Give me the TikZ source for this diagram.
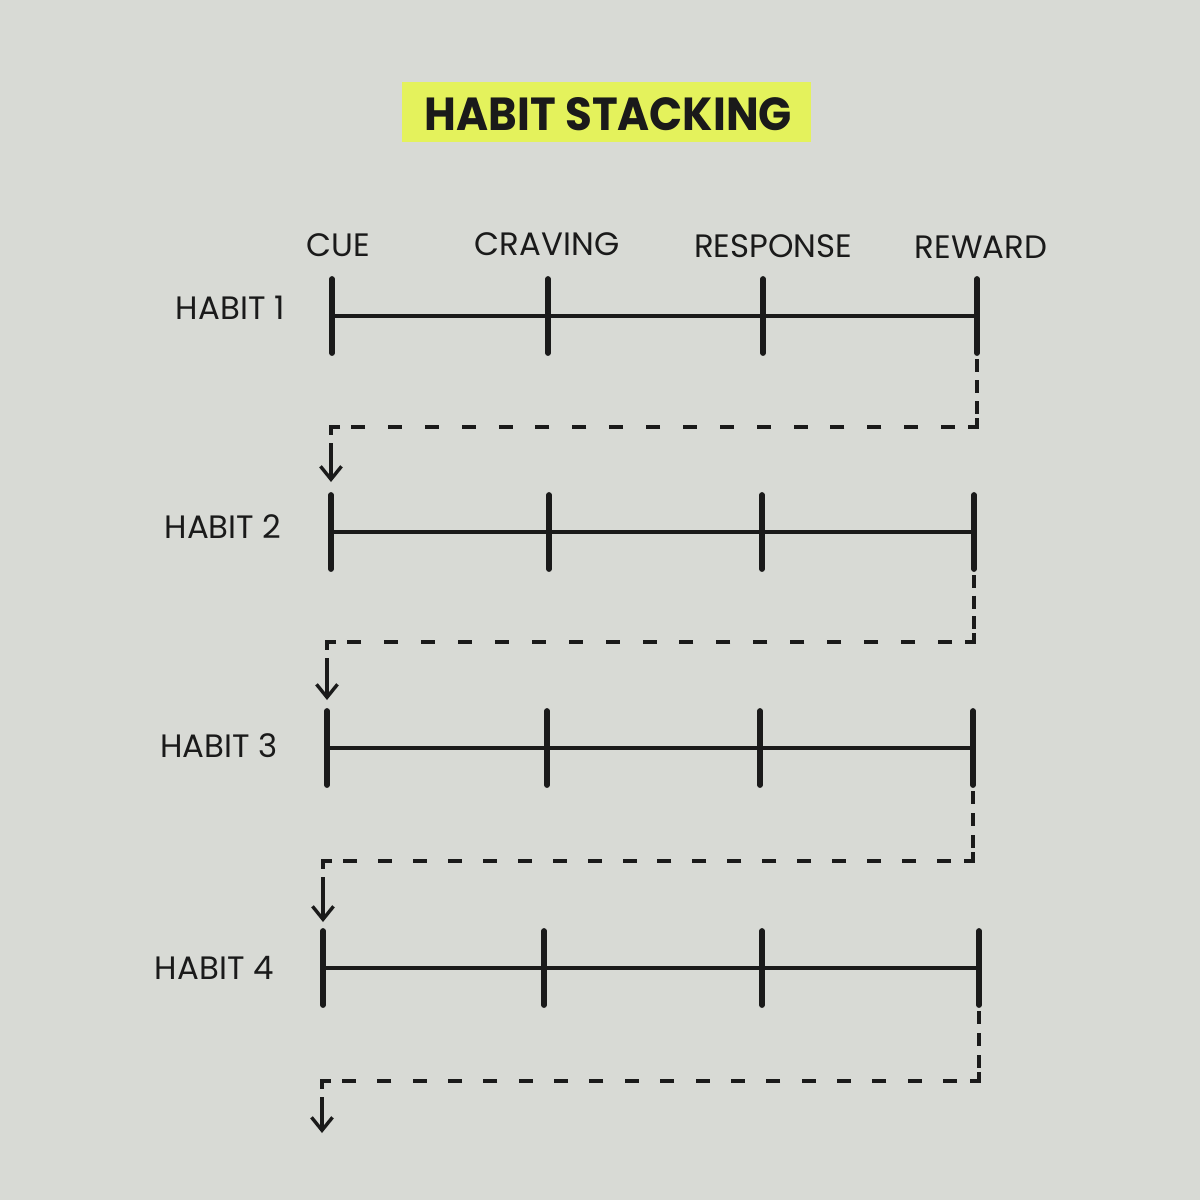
\documentclass[tikz,border=0pt]{standalone}
\usepackage{fontspec}
\setmainfont{Poppins}
\usetikzlibrary{arrows.meta,calc}
\definecolor{paper}{RGB}{216,218,213}
\definecolor{hilite}{RGB}{228,242,92}
\definecolor{ink}{RGB}{26,26,26}
\begin{document}
\begin{tikzpicture}[x=0.5pt,y=-0.5pt,
  axis/.style={line width=2.4pt, draw=ink},
  tickmark/.style={line width=2.9pt, draw=ink, line cap=round},
  dashline/.style={line width=2.1pt, draw=ink},
  cornermark/.style={line width=2.1pt, draw=ink},
  downarrow/.style={line width=1.7pt, draw=ink, -{Straight Barb[length=6.5pt,width=10.5pt]}},
  habitlabel/.style={font=\fontsize{16.2}{16.2}\selectfont, text=ink, inner sep=0pt, anchor=east},
  stagelabel/.style={font=\fontsize{16.2}{16.2}\selectfont, text=ink, inner sep=0pt, anchor=center},
  titlebox/.style={fill=hilite, inner sep=0pt, minimum width=204.5pt, minimum height=30pt}
]
\fill[paper] (0,0) rectangle (1200,1200);
\useasboundingbox (0,0) rectangle (1200,1200);

% title
\node[titlebox] (titlebg) at (606.5,112) {};
\node[inner sep=0pt, text=ink] (title) at (608.5,114.5)
  {\resizebox{183.5pt}{16.5pt}{\fontsize{24}{24}\selectfont\bfseries HABIT STACKING}};

% stage labels
\node[stagelabel] (cue) at (338,245) {CUE};
\node[stagelabel] (craving) at (547,244) {CRAVING};
\node[stagelabel] (response) at (773,246) {RESPONSE};
\node[stagelabel] (reward) at (981,247) {REWARD};

% habit rows
\foreach \n/\y/\a/\b/\c/\d/\lx/\ly in {1/316/332/548/763/977/285/308,
                                      2/532/331/549/762/974/282/527,
                                      3/748/327/547/760/973/278/746,
                                      4/968/323/544/762/979/274/968}{
  \coordinate (C\n) at (\a,\y);
  \coordinate (V\n) at (\b,\y);
  \coordinate (P\n) at (\c,\y);
  \coordinate (W\n) at (\d,\y);
  \draw[axis] (C\n) -- (W\n);
  \foreach \k in {C,V,P,W}
    \draw[tickmark] ($(\k\n)+(0,-37)$) -- ($(\k\n)+(0,37)$);
  \node[habitlabel] (L\n) at (\lx,\ly) {HABIT \n};
}
\coordinate (C5) at (322,1146);

% dashed connectors with arrows
\foreach \n/\m/\h/\t/\rx/\ry/\cx in {1/2/427/482/977/316/331,
                                     2/3/642/700/974/532/327,
                                     3/4/861/922/973/748/323,
                                     4/5/1081/1133/979/968/322}{
  \coordinate (B\n) at ($(W\n)+(0,37)$);
  \coordinate (K\n) at (W\n |- 0,\h);
  \coordinate (J\n) at (C\m |- 0,\h);
  \coordinate (T\n) at (C\m |- 0,\t);
  % vertical dashes fitted to the segment
  \pgfmathsetmacro\Lv{(\h-13)-(\ry+43)}
  \pgfmathsetmacro\nv{max(2,round((\Lv+10)/23))}
  \pgfmathsetmacro\offv{(\Lv-13*\nv)/(\nv-1)/2}
  % horizontal dashes fitted to the segment
  \pgfmathsetmacro\Lh{(\rx-22)-(\cx+20)}
  \pgfmathsetmacro\nh{round((\Lh+22)/36)}
  \pgfmathsetmacro\offh{(\Lh-14*\nh)/(\nh-1)/2}
  \draw[dashline, dash pattern=on 6.5pt off \offv pt] ($(B\n)+(0,6)$) -- ($(K\n)+(0,-13)$);
  \draw[cornermark] ($(K\n)+(0,-9)$) -- (K\n) -- ($(K\n)+(-9,0)$);
  \draw[dashline, dash pattern=on 7pt off \offh pt] ($(K\n)+(-22,0)$) -- ($(J\n)+(20,0)$);
  \draw[cornermark] ($(J\n)+(9,0)$) -- (J\n) -- ($(J\n)+(0,8)$);
  \draw[downarrow] ($(J\n)+(0,16)$) -- (T\n);
}
\end{tikzpicture}
\end{document}
